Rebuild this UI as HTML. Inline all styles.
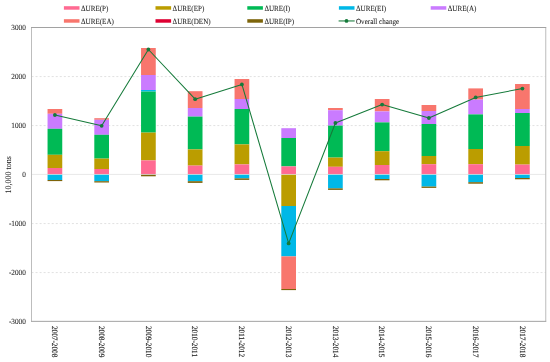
<!DOCTYPE html>
<html><head><meta charset="utf-8"><title>chart</title>
<style>html,body{margin:0;padding:0;background:#fff}svg{display:block}text{font-family:"Liberation Serif","DejaVu Serif",serif;font-size:7.1px;fill:#1c1c1c;stroke:#1c1c1c;stroke-width:0.06px;text-rendering:geometricPrecision}</style></head><body>
<svg width="550" height="362" viewBox="0 0 550 362">
<rect width="550" height="362" fill="#fff"/>
<line x1="31.5" x2="545.75" y1="76.55" y2="76.55" stroke="#dadada" stroke-width="0.8" stroke-dasharray="2.02 2.02"/>
<line x1="31.5" x2="545.75" y1="125.55" y2="125.55" stroke="#dadada" stroke-width="0.8" stroke-dasharray="2.02 2.02"/>
<line x1="31.5" x2="545.75" y1="223.55" y2="223.55" stroke="#dadada" stroke-width="0.8" stroke-dasharray="2.02 2.02"/>
<line x1="31.5" x2="545.75" y1="272.55" y2="272.55" stroke="#dadada" stroke-width="0.8" stroke-dasharray="2.02 2.02"/>
<rect x="47.55" y="109" width="14.7" height="4.80" fill="#F8766D"/>
<rect x="47.55" y="113.8" width="14.7" height="15.00" fill="#CA7BFF"/>
<rect x="47.55" y="128.8" width="14.7" height="26.00" fill="#00BA55"/>
<rect x="47.55" y="154.8" width="14.7" height="13.20" fill="#BB9D00"/>
<rect x="47.55" y="168" width="14.7" height="6.40" fill="#FF6A92"/>
<rect x="47.55" y="174.4" width="14.7" height="5.60" fill="#00B8E7"/>
<rect x="47.55" y="180" width="14.7" height="1.10" fill="#7D640A"/>
<rect x="94.30" y="118.2" width="14.7" height="1.60" fill="#F8766D"/>
<rect x="94.30" y="119.8" width="14.7" height="15.00" fill="#CA7BFF"/>
<rect x="94.30" y="134.8" width="14.7" height="23.80" fill="#00BA55"/>
<rect x="94.30" y="158.6" width="14.7" height="10.40" fill="#BB9D00"/>
<rect x="94.30" y="169" width="14.7" height="5.40" fill="#FF6A92"/>
<rect x="94.30" y="174.4" width="14.7" height="6.80" fill="#00B8E7"/>
<rect x="94.30" y="181.2" width="14.7" height="1.30" fill="#7D640A"/>
<rect x="141.05" y="48" width="14.7" height="27.00" fill="#F8766D"/>
<rect x="141.05" y="75" width="14.7" height="15.00" fill="#CA7BFF"/>
<rect x="141.05" y="90" width="14.7" height="1.60" fill="#00B8E7"/>
<rect x="141.05" y="91.6" width="14.7" height="41.00" fill="#00BA55"/>
<rect x="141.05" y="132.6" width="14.7" height="27.80" fill="#BB9D00"/>
<rect x="141.05" y="160.4" width="14.7" height="14.00" fill="#FF6A92"/>
<rect x="141.05" y="174.4" width="14.7" height="1.90" fill="#7D640A"/>
<rect x="187.80" y="91.2" width="14.7" height="16.80" fill="#F8766D"/>
<rect x="187.80" y="108" width="14.7" height="8.60" fill="#CA7BFF"/>
<rect x="187.80" y="116.6" width="14.7" height="32.80" fill="#00BA55"/>
<rect x="187.80" y="149.4" width="14.7" height="16.20" fill="#BB9D00"/>
<rect x="187.80" y="165.6" width="14.7" height="8.80" fill="#FF6A92"/>
<rect x="187.80" y="174.4" width="14.7" height="6.80" fill="#00B8E7"/>
<rect x="187.80" y="181.2" width="14.7" height="1.70" fill="#7D640A"/>
<rect x="234.55" y="79" width="14.7" height="20.00" fill="#F8766D"/>
<rect x="234.55" y="99" width="14.7" height="10.00" fill="#CA7BFF"/>
<rect x="234.55" y="109" width="14.7" height="35.40" fill="#00BA55"/>
<rect x="234.55" y="144.4" width="14.7" height="20.00" fill="#BB9D00"/>
<rect x="234.55" y="164.4" width="14.7" height="10.00" fill="#FF6A92"/>
<rect x="234.55" y="174.4" width="14.7" height="4.00" fill="#00B8E7"/>
<rect x="234.55" y="178.4" width="14.7" height="1.50" fill="#7D640A"/>
<rect x="281.30" y="128.2" width="14.7" height="9.80" fill="#CA7BFF"/>
<rect x="281.30" y="138" width="14.7" height="28.40" fill="#00BA55"/>
<rect x="281.30" y="166.4" width="14.7" height="8.00" fill="#FF6A92"/>
<rect x="281.30" y="174.4" width="14.7" height="31.60" fill="#BB9D00"/>
<rect x="281.30" y="206" width="14.7" height="50.40" fill="#00B8E7"/>
<rect x="281.30" y="256.4" width="14.7" height="32.60" fill="#F8766D"/>
<rect x="281.30" y="289" width="14.7" height="1.10" fill="#7D640A"/>
<rect x="328.05" y="108" width="14.7" height="2.20" fill="#F8766D"/>
<rect x="328.05" y="110.2" width="14.7" height="15.40" fill="#CA7BFF"/>
<rect x="328.05" y="125.6" width="14.7" height="32.00" fill="#00BA55"/>
<rect x="328.05" y="157.6" width="14.7" height="9.20" fill="#BB9D00"/>
<rect x="328.05" y="166.8" width="14.7" height="7.60" fill="#FF6A92"/>
<rect x="328.05" y="174.4" width="14.7" height="14.00" fill="#00B8E7"/>
<rect x="328.05" y="188.4" width="14.7" height="1.50" fill="#7D640A"/>
<rect x="374.80" y="99" width="14.7" height="12.40" fill="#F8766D"/>
<rect x="374.80" y="111.4" width="14.7" height="11.00" fill="#CA7BFF"/>
<rect x="374.80" y="122.4" width="14.7" height="28.80" fill="#00BA55"/>
<rect x="374.80" y="151.2" width="14.7" height="13.80" fill="#BB9D00"/>
<rect x="374.80" y="165" width="14.7" height="9.40" fill="#FF6A92"/>
<rect x="374.80" y="174.4" width="14.7" height="4.60" fill="#00B8E7"/>
<rect x="374.80" y="179" width="14.7" height="1.30" fill="#7D640A"/>
<rect x="421.55" y="105" width="14.7" height="6.00" fill="#F8766D"/>
<rect x="421.55" y="111" width="14.7" height="13.00" fill="#CA7BFF"/>
<rect x="421.55" y="124" width="14.7" height="32.00" fill="#00BA55"/>
<rect x="421.55" y="156" width="14.7" height="8.20" fill="#BB9D00"/>
<rect x="421.55" y="164.2" width="14.7" height="10.20" fill="#FF6A92"/>
<rect x="421.55" y="174.4" width="14.7" height="12.20" fill="#00B8E7"/>
<rect x="421.55" y="186.6" width="14.7" height="1.30" fill="#7D640A"/>
<rect x="468.30" y="88.4" width="14.7" height="11.20" fill="#F8766D"/>
<rect x="468.30" y="99.6" width="14.7" height="14.80" fill="#CA7BFF"/>
<rect x="468.30" y="114.4" width="14.7" height="34.60" fill="#00BA55"/>
<rect x="468.30" y="149" width="14.7" height="15.20" fill="#BB9D00"/>
<rect x="468.30" y="164.2" width="14.7" height="10.20" fill="#FF6A92"/>
<rect x="468.30" y="174.4" width="14.7" height="7.80" fill="#00B8E7"/>
<rect x="468.30" y="182.2" width="14.7" height="1.50" fill="#7D640A"/>
<rect x="515.05" y="84" width="14.7" height="25.00" fill="#F8766D"/>
<rect x="515.05" y="109" width="14.7" height="4.00" fill="#CA7BFF"/>
<rect x="515.05" y="113" width="14.7" height="33.00" fill="#00BA55"/>
<rect x="515.05" y="146" width="14.7" height="18.60" fill="#BB9D00"/>
<rect x="515.05" y="164.6" width="14.7" height="9.80" fill="#FF6A92"/>
<rect x="515.05" y="174.4" width="14.7" height="3.60" fill="#00B8E7"/>
<rect x="515.05" y="178" width="14.7" height="1.30" fill="#7D640A"/>
<line x1="31.5" x2="545.75" y1="174.45" y2="174.45" stroke="#e0e0e0" stroke-width="0.7"/>
<line x1="31.5" x2="31.5" y1="27.5" y2="321.35" stroke="#bdbdbd" stroke-width="1"/>
<line x1="545.75" x2="545.75" y1="27.5" y2="321.35" stroke="#bdbdbd" stroke-width="1"/>
<line x1="31.0" x2="546.25" y1="27.5" y2="27.5" stroke="#a2a2a2" stroke-width="1"/>
<line x1="31.0" x2="546.25" y1="321.35" y2="321.35" stroke="#a2a2a2" stroke-width="1"/>
<polyline points="54.90,115 101.65,125.8 148.40,49.5 195.15,99.2 241.90,84.4 288.65,243.4 335.40,123 382.15,104.6 428.90,118 475.65,97.4 522.40,88.6" fill="none" stroke="#157A3A" stroke-width="1.05" stroke-linejoin="round"/>
<circle cx="54.90" cy="115" r="1.9" fill="#157A3A"/>
<circle cx="101.65" cy="125.8" r="1.9" fill="#157A3A"/>
<circle cx="148.40" cy="49.5" r="1.9" fill="#157A3A"/>
<circle cx="195.15" cy="99.2" r="1.9" fill="#157A3A"/>
<circle cx="241.90" cy="84.4" r="1.9" fill="#157A3A"/>
<circle cx="288.65" cy="243.4" r="1.9" fill="#157A3A"/>
<circle cx="335.40" cy="123" r="1.9" fill="#157A3A"/>
<circle cx="382.15" cy="104.6" r="1.9" fill="#157A3A"/>
<circle cx="428.90" cy="118" r="1.9" fill="#157A3A"/>
<circle cx="475.65" cy="97.4" r="1.9" fill="#157A3A"/>
<circle cx="522.40" cy="88.6" r="1.9" fill="#157A3A"/>
<text transform="translate(25.8,30.40) scale(1,1.09)" text-anchor="end" style="font-size:7.25px">3000</text>
<text transform="translate(25.8,79.45) scale(1,1.09)" text-anchor="end" style="font-size:7.25px">2000</text>
<text transform="translate(25.8,128.45) scale(1,1.09)" text-anchor="end" style="font-size:7.25px">1000</text>
<text transform="translate(25.8,177.40) scale(1,1.09)" text-anchor="end" style="font-size:7.25px">0</text>
<text transform="translate(25.8,226.45) scale(1,1.09)" text-anchor="end" style="font-size:7.25px">-1000</text>
<text transform="translate(25.8,275.45) scale(1,1.09)" text-anchor="end" style="font-size:7.25px">-2000</text>
<text transform="translate(25.8,324.30) scale(1,1.09)" text-anchor="end" style="font-size:7.25px">-3000</text>
<text transform="translate(10.6,174.8) rotate(-90) scale(1,1.06)" text-anchor="middle" style="font-size:8px">10,000 tons</text>
<text transform="translate(52.20,325.9) rotate(90) scale(1,1.12)" style="font-size:7.27px;stroke-width:0.12px">2007-2008</text>
<text transform="translate(98.95,325.9) rotate(90) scale(1,1.12)" style="font-size:7.27px;stroke-width:0.12px">2008-2009</text>
<text transform="translate(145.70,325.9) rotate(90) scale(1,1.12)" style="font-size:7.27px;stroke-width:0.12px">2009-2010</text>
<text transform="translate(192.45,325.9) rotate(90) scale(1,1.12)" style="font-size:7.27px;stroke-width:0.12px">2010-2011</text>
<text transform="translate(239.20,325.9) rotate(90) scale(1,1.12)" style="font-size:7.27px;stroke-width:0.12px">2011-2012</text>
<text transform="translate(285.95,325.9) rotate(90) scale(1,1.12)" style="font-size:7.27px;stroke-width:0.12px">2012-2013</text>
<text transform="translate(332.70,325.9) rotate(90) scale(1,1.12)" style="font-size:7.27px;stroke-width:0.12px">2013-2014</text>
<text transform="translate(379.45,325.9) rotate(90) scale(1,1.12)" style="font-size:7.27px;stroke-width:0.12px">2014-2015</text>
<text transform="translate(426.20,325.9) rotate(90) scale(1,1.12)" style="font-size:7.27px;stroke-width:0.12px">2015-2016</text>
<text transform="translate(472.95,325.9) rotate(90) scale(1,1.12)" style="font-size:7.27px;stroke-width:0.12px">2016-2017</text>
<text transform="translate(519.70,325.9) rotate(90) scale(1,1.12)" style="font-size:7.27px;stroke-width:0.12px">2017-2018</text>
<rect x="63.9" y="6.2" width="15.6" height="3.5" fill="#FF6A92"/>
<text transform="translate(81,11.00) scale(1,1.1)">ΔURE(P)</text>
<rect x="155.5" y="6.2" width="15.6" height="3.5" fill="#BB9D00"/>
<text transform="translate(172.6,11.00) scale(1,1.1)">ΔURE(EP)</text>
<rect x="247.3" y="6.2" width="15.6" height="3.5" fill="#00BA55"/>
<text transform="translate(264.4,11.00) scale(1,1.1)">ΔURE(I)</text>
<rect x="338.9" y="6.2" width="15.6" height="3.5" fill="#00B8E7"/>
<text transform="translate(356,11.00) scale(1,1.1)">ΔURE(EI)</text>
<rect x="430.7" y="6.2" width="15.6" height="3.5" fill="#CA7BFF"/>
<text transform="translate(447.8,11.00) scale(1,1.1)">ΔURE(A)</text>
<rect x="63.9" y="19.2" width="15.6" height="3.5" fill="#F8766D"/>
<text transform="translate(81,24.00) scale(1,1.1)">ΔURE(EA)</text>
<rect x="155.5" y="19.2" width="15.6" height="3.5" fill="#DE0032"/>
<text transform="translate(172.6,24.00) scale(1,1.1)">ΔURE(DEN)</text>
<rect x="247.3" y="19.2" width="15.6" height="3.5" fill="#7D640A"/>
<text transform="translate(264.4,24.00) scale(1,1.1)">ΔURE(IP)</text>
<line x1="338.6" x2="354.7" y1="20.95" y2="20.95" stroke="#157A3A" stroke-width="1.05"/><circle cx="346.5" cy="20.95" r="1.9" fill="#157A3A"/>
<text transform="translate(356,24.00) scale(1,1.1)">Overall change</text>
</svg></body></html>
